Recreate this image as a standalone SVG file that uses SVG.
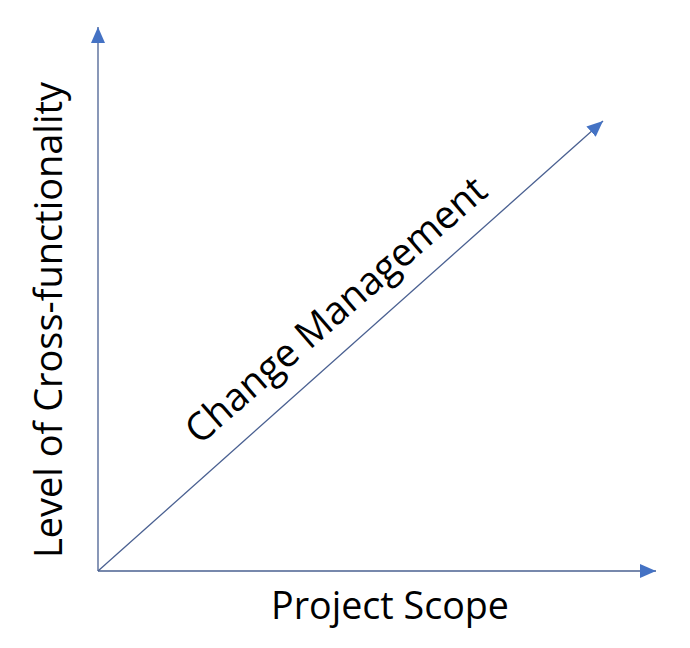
<svg xmlns="http://www.w3.org/2000/svg" width="690" height="648" viewBox="0 0 690 648">
  <style>
    .axis { stroke: #4A6091; stroke-width: 1.3; fill: none; marker-end: url(#arrow); }
    .label { font-family: "Open Sans", "Liberation Sans", sans-serif; font-size: 39px; fill: #000000; }
  </style>
  <defs>
    <marker id="arrow" markerUnits="userSpaceOnUse" markerWidth="16" markerHeight="14" refX="16" refY="7" orient="auto">
      <path d="M0,0 L16,7 L0,14 Z" fill="#4472C4"/>
    </marker>
  </defs>
  <rect width="690" height="648" fill="#FFFFFF"/>
  <g id="connectors">
    <line class="axis" x1="98" y1="571" x2="98" y2="27"/>
    <line class="axis" x1="98" y1="571" x2="656" y2="571"/>
    <line class="axis" x1="98" y1="571" x2="603" y2="121"/>
  </g>
  <g id="y-label">
    <text class="label" transform="translate(62,320) rotate(-90)" text-anchor="middle" textLength="476" lengthAdjust="spacingAndGlyphs">Level of Cross-functionality</text>
  </g>
  <g id="x-label">
    <text class="label" x="390" y="619" text-anchor="middle" textLength="238" lengthAdjust="spacingAndGlyphs">Project Scope</text>
  </g>
  <g id="diagonal-label">
    <text class="label" transform="translate(344.5,320) rotate(-40.9)" text-anchor="middle" textLength="384" lengthAdjust="spacingAndGlyphs">Change Management</text>
  </g>
</svg>
